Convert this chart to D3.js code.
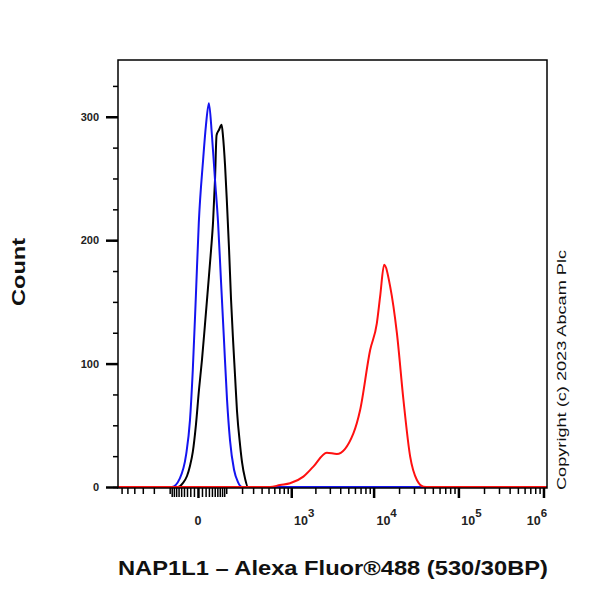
<!DOCTYPE html>
<html>
<head>
<meta charset="utf-8">
<script src="https://cdn.jsdelivr.net/npm/d3@7"></script>
<style>
  body { margin: 0; background: #fff; }
  text { font-family: "Liberation Sans", Arial, sans-serif; }
</style>
</head>
<body>
<svg id="chart" width="600" height="600"></svg>
<script>
// fluorescence value, count
const blackSeries = [
    [-63, 0], [-44, 3.2], [-30, 8.9], [-21, 17], [-13, 28.4], [-5, 50], [2.4, 78.6],
    [10, 103], [18, 131], [27, 161], [37, 192], [44, 215], [51, 249], [57, 285],
    [67, 289.5], [78, 293.5], [84, 285], [94, 261], [104, 229], [115, 192], [126, 152],
    [138, 119], [150, 91], [163, 62], [185, 34], [200, 20], [224, 7], [250, 0]
];
const blueSeries = [
    [-89, 0], [-55, 7], [-33, 26], [-21, 54], [-13, 95], [-5, 155], [2, 214], [13, 265],
    [21, 293], [30, 311], [40, 285], [51, 249], [63, 214], [75, 168], [89, 119],
    [104, 71], [120, 38], [144, 14], [170, 4], [200, 0]
];
const redSeries = [
    [525, 0], [715, 1.6], [964, 3], [1421, 8.4], [1888, 16.5], [2755, 27.8], [3641, 26.8],
    [5751, 43.5], [6917, 62.4], [9100, 111], [10920, 132.6], [11950, 154.4], [13330, 180],
    [15710, 162.4], [18860, 124.6], [22550, 70.3], [27050, 24.6], [32460, 5.7], [38860, 0.3],
    [45000, 0]
];

const yMajorTicks = [0, 100, 200, 300];
const yMinorTicks = d3.range(0, 346, 25);
const xMajorTicks = [0, 1e3, 1e4, 1e5, 1e6];

const xTitle = "NAP1L1 \u2013 Alexa Fluor\u00ae488 (530/30BP)";
const yTitle = "Count";
const copyright = "Copyright (c) 2023 Abcam Plc";

const plotLeft = 118, plotRight = 547, plotTop = 60, plotBottom = 488;

const svg = d3.select("#chart");

const x = d3.scaleSymlog()
    .constant(87)
    .domain([-670, 1.1e6])
    .range([plotLeft, plotRight]);
const y = d3.scaleLinear()
    .domain([0, 346])
    .range([plotBottom - 1, plotTop]);

// minor ticks on the biexponential axis
let xMinorTicks = [];
[10, 100].forEach(p => {
    for (let k = 1; k <= 9; k++) {
        if (-k * p >= x.domain()[0]) xMinorTicks.push(-k * p);
        xMinorTicks.push(k * p);
    }
});
[1e3, 1e4, 1e5].forEach(p => {
    for (let k = 2; k <= 9; k++) xMinorTicks.push(k * p);
});

svg.append("clipPath").attr("id", "plot")
    .append("rect")
    .attr("x", plotLeft).attr("y", plotTop)
    .attr("width", plotRight - plotLeft).attr("height", plotBottom - plotTop);

const line = d3.line()
    .x(d => x(d[0]))
    .y(d => y(d[1]))
    .curve(d3.curveMonotoneX);

const withBase = s => [[x.domain()[0], 0], ...s, [x.domain()[1], 0]];

svg.append("g")
    .attr("clip-path", "url(#plot)")
    .selectAll("path")
    .data([[blackSeries, "#000000"], [blueSeries, "#1414f0"], [redSeries, "#ff1010"]])
    .enter()
    .append("path")
    .attr("d", d => line(withBase(d[0])))
    .attr("fill", "none")
    .attr("stroke", d => d[1])
    .attr("stroke-width", 2)
    .attr("stroke-linejoin", "round");

// frame
svg.append("rect")
    .attr("x", plotLeft).attr("y", plotTop)
    .attr("width", plotRight - plotLeft).attr("height", plotBottom - plotTop)
    .attr("fill", "none")
    .attr("stroke", "#000")
    .attr("stroke-width", 1.5);

// y axis
const yMinor = svg.append("g")
    .attr("transform", `translate(${plotLeft},0)`)
    .call(d3.axisLeft(y).tickValues(yMinorTicks).tickSize(5).tickFormat(""));
yMinor.select(".domain").remove();
yMinor.selectAll("line").attr("stroke-width", 1.5);

const yMajor = svg.append("g")
    .attr("transform", `translate(${plotLeft},0)`)
    .call(d3.axisLeft(y).tickValues(yMajorTicks).tickSize(12).tickPadding(7));
yMajor.select(".domain").remove();
yMajor.selectAll("line").attr("stroke-width", 2.5);
yMajor.selectAll("text")
    .attr("font-size", 11)
    .attr("font-weight", "bold")
    .attr("fill", "#222")
    .style("font-family", "'Liberation Sans', Arial, sans-serif");

// x axis
const xMinor = svg.append("g")
    .attr("transform", `translate(0,${plotBottom})`)
    .call(d3.axisBottom(x).tickValues(xMinorTicks).tickSize(6).tickFormat(""));
xMinor.select(".domain").remove();
xMinor.selectAll("line")
    .attr("stroke-width", 1.5)
    .attr("y2", d => Math.abs(d) < 100 ? 9 : 6);

const xMajor = svg.append("g")
    .attr("transform", `translate(0,${plotBottom})`)
    .call(d3.axisBottom(x).tickValues(xMajorTicks).tickSize(10).tickFormat(""));
xMajor.select(".domain").remove();
xMajor.selectAll("line").attr("stroke-width", 2.5);

const xLabels = svg.append("g")
    .selectAll("text")
    .data(xMajorTicks)
    .enter()
    .append("text")
    .attr("x", d => d === 0 ? x(d) : Math.min(x(d) + 13, 537))
    .attr("y", 525)
    .attr("text-anchor", "middle")
    .attr("font-size", 12.5)
    .attr("font-weight", "bold")
    .attr("fill", "#222");
xLabels.filter(d => d === 0).text("0");
xLabels.filter(d => d !== 0).append("tspan").text("10");
xLabels.filter(d => d !== 0).append("tspan")
    .attr("font-size", 11.5)
    .attr("dy", -8)
    .text(d => Math.round(Math.log10(d)));

// titles
svg.append("text")
    .attr("x", plotLeft)
    .attr("y", 575)
    .attr("font-size", 20)
    .attr("font-weight", "bold")
    .attr("fill", "#111")
    .attr("textLength", 430)
    .attr("lengthAdjust", "spacingAndGlyphs")
    .text(xTitle);

svg.append("text")
    .attr("transform", "translate(25,272) rotate(-90)")
    .attr("text-anchor", "middle")
    .attr("font-size", 18)
    .attr("font-weight", "bold")
    .attr("fill", "#111")
    .attr("textLength", 68)
    .attr("lengthAdjust", "spacingAndGlyphs")
    .text(yTitle);

svg.append("text")
    .attr("transform", "translate(566,370) rotate(-90)")
    .attr("text-anchor", "middle")
    .attr("font-size", 12.5)
    .attr("fill", "#111")
    .attr("textLength", 240)
    .attr("lengthAdjust", "spacingAndGlyphs")
    .text(copyright);
</script>
</body>
</html>
